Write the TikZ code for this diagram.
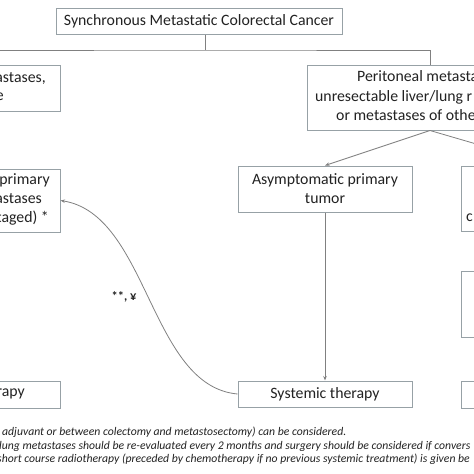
\documentclass[tikz,border=0pt]{standalone}
\usepackage{fontspec}
\setmainfont{Carlito}
\usetikzlibrary{arrows.meta}
\definecolor{boxgray}{HTML}{97A1A6}
\definecolor{linegray}{HTML}{808080}
\definecolor{txt}{HTML}{222222}
\def \boxFont {\fontsize{15.8}{19}\selectfont}
\def \noteFont {\fontsize{11.7}{13.5}\selectfont\itshape}

\begin{document}
\begin{tikzpicture}[x=1pt, y=-1pt,
    box/.style={draw=boxgray, line width=1pt, fill=white, inner sep=0pt, align=center, font=\boxFont, text=txt},
    part/.style={inner sep=0pt, text height=1.5ex, text depth=.25ex, font=\boxFont, text=txt},
    link/.style={draw=linegray, line width=.8pt},
    arrow/.style={link, -{Stealth[length=4.5pt, width=3.5pt]}}]
  \useasboundingbox (0,0) rectangle (474,474);
  \clip (0,0) rectangle (474,474);

  \node[box, minimum width=286, minimum height=26] (scc) at (199,21) {Synchronous Metastatic Colorectal Cancer};
  \node[box, minimum width=160, minimum height=46] (resect) at (-20,88) {};
  \node[box, minimum width=246, minimum height=65] (peri) at (430,97.5) {};
  \node[box, minimum width=160, minimum height=63] (prim) at (-20,200.5) {};
  \node[box, minimum width=174, minimum height=46] (asym) at (325,189) {Asymptomatic primary\\tumor};
  \node[box, minimum width=178, minimum height=65] (cols) at (550,198.5) {};
  \node[box, minimum width=178, minimum height=66] (rmid) at (550,304) {};
  \node[box, minimum width=160, minimum height=27] (lsys) at (-20,394.5) {};
  \node[box, minimum width=174, minimum height=26] (sys) at (325,394) {Systemic therapy};
  \node[box, minimum width=178, minimum height=27] (rlow) at (550,394.5) {};

  \node[part, anchor=east] (resectA) at (46,80) {astases,};
  \node[part, anchor=east] (resectB) at (4,98) {e};
  \node[part, anchor=west] (periA) at (357,79) {Peritoneal metasta};
  \node[part, anchor=west] (periB) at (315,98.5) {unresectable liver/lung r};
  \node[part, anchor=west] (periC) at (336,118) {or metastases of othe};
  \node[part, anchor=east] (primA) at (50,182) {primary};
  \node[part, anchor=east] (primB) at (42,201) {astases};
  \node[part, anchor=east] (primC) at (49,220) {taged) *};
  \node[part, anchor=west] (colsC) at (466,219) {c};
  \node[part, anchor=east] (lsysA) at (25,394) {rapy};

  \coordinate (split) at (205,50);
  \draw[link] (scc.south -| split) -- (split);
  \draw[link] (resect.north) |- (split) -| (peri.north);
  \draw[arrow] (peri.south) -- (asym.north);
  \draw[arrow] (peri.south) -- (cols.north);
  \draw[arrow] (asym.south) -- (sys.north);
  \draw[arrow] (sys.west) .. controls +(-88,-8) and +(88,14) .. (prim.east);
  \node[font=\fontsize{12.5}{14}\selectfont\bfseries, text=txt] (again) at (124,297) {**, ¥};

  \node[anchor=west, inner sep=0pt, font=\noteFont, text=txt] (noteA) at (2,432) {adjuvant or between colectomy and metastosectomy) can be considered.};
  \node[anchor=west, inner sep=0pt, font=\noteFont, text=txt] (noteB) at (-1,446) {lung metastases should be re-evaluated every 2 months and surgery should be considered if convers};
  \node[anchor=west, inner sep=0pt, font=\noteFont, text=txt] (noteC) at (-3,459) {short course radiotherapy  (preceded by chemotherapy if no previous systemic treatment) is given be};
\end{tikzpicture}
\end{document}
